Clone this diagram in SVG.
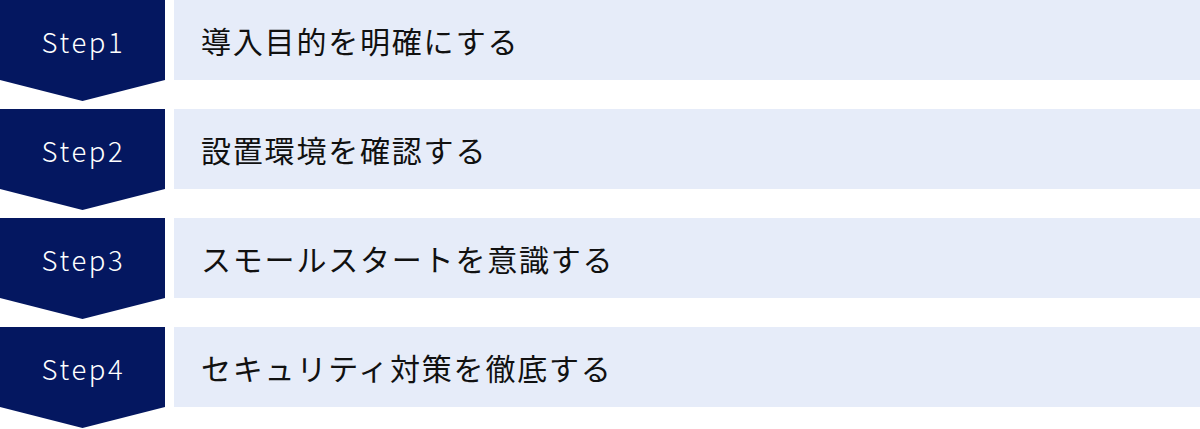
<svg xmlns="http://www.w3.org/2000/svg" width="1200" height="429" viewBox="0 0 1200 429">
<style>
.chev{fill:#041760}
.bar{fill:#E6ECF9}
.step{fill:#ffffff;font-family:"Noto Sans CJK JP","Noto Sans",sans-serif;font-size:27.5px;font-weight:300;letter-spacing:2.6px;text-anchor:middle}
.lbl{fill:#111111;font-family:"Noto Sans CJK JP","Noto Sans",sans-serif;font-size:30px;letter-spacing:1.8px}
</style>
<rect width="1200" height="429" fill="#ffffff"/>
<g id="step1">
<polygon class="chev" points="0,0 165,0 165,80 82.5,101 0,80"/>
<rect class="bar" x="174" y="0" width="1026" height="80"/>
<text class="step" x="83.5" y="53">Step1</text>
<text class="lbl" x="201" y="53">導入目的を明確にする</text>
</g>
<g id="step2">
<polygon class="chev" points="0,109 165,109 165,189 82.5,210 0,189"/>
<rect class="bar" x="174" y="109" width="1026" height="80"/>
<text class="step" x="83.5" y="162">Step2</text>
<text class="lbl" x="201" y="162">設置環境を確認する</text>
</g>
<g id="step3">
<polygon class="chev" points="0,218 165,218 165,298 82.5,319 0,298"/>
<rect class="bar" x="174" y="218" width="1026" height="80"/>
<text class="step" x="83.5" y="271">Step3</text>
<text class="lbl" x="201" y="271">スモールスタートを意識する</text>
</g>
<g id="step4">
<polygon class="chev" points="0,327 165,327 165,407 82.5,428 0,407"/>
<rect class="bar" x="174" y="327" width="1026" height="80"/>
<text class="step" x="83.5" y="380">Step4</text>
<text class="lbl" x="201" y="380">セキュリティ対策を徹底する</text>
</g>
<g id="connectors"></g>
</svg>
